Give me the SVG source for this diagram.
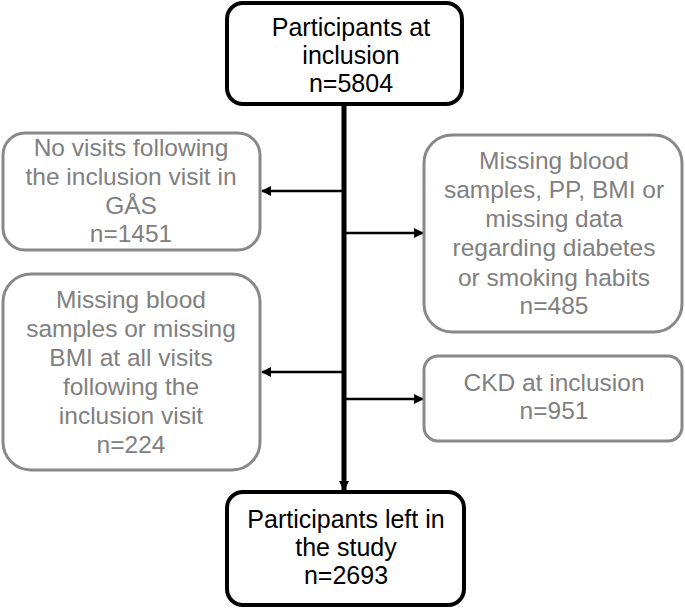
<svg xmlns="http://www.w3.org/2000/svg" width="685" height="609" viewBox="0 0 685 609">
<style>
.k{fill:#fff;stroke:#000;stroke-width:4}
.g{fill:#fff;stroke:#888;stroke-width:3}
text{font-family:"Liberation Sans",Arial,sans-serif;font-size:25px;text-anchor:middle}
.gt{fill:#808080;font-size:24.5px}
.c{stroke:#000;fill:none}
</style>
<defs><marker id="b" viewBox="0 0 10 10" refX="9" refY="5" markerWidth="10" markerHeight="10" orient="auto" markerUnits="userSpaceOnUse"><path d="M0,0L10,5L0,10z"/></marker></defs>
<g id="connectors">
<line class="c" x1="344" y1="106" x2="344" y2="490" stroke-width="5" marker-end="url(#b)"/>
<line class="c" x1="344" y1="191" x2="262" y2="191" stroke-width="2.5" marker-end="url(#b)"/>
<line class="c" x1="344" y1="233" x2="423" y2="233" stroke-width="2.5" marker-end="url(#b)"/>
<line class="c" x1="344" y1="372" x2="262" y2="372" stroke-width="2.5" marker-end="url(#b)"/>
<line class="c" x1="344" y1="399" x2="423" y2="399" stroke-width="2.5" marker-end="url(#b)"/>
</g>
<g id="top"><rect class="k" x="227" y="3" width="235" height="101" rx="16"/>
<text x="351" y="36">Participants at</text><text x="351" y="64">inclusion</text><text x="351" y="92">n=5804</text></g>
<g id="left1"><rect class="g" x="3" y="133" width="257" height="117" rx="22"/>
<text class="gt" x="131" y="156">No visits following</text><text class="gt" x="131" y="185">the inclusion visit in</text><text class="gt" x="131" y="214">GÅS</text><text class="gt" x="131" y="242">n=1451</text></g>
<g id="right1"><rect class="g" x="424" y="135" width="258" height="197" rx="28"/>
<text class="gt" x="554" y="169">Missing blood</text><text class="gt" x="554" y="198">samples, PP, BMI or</text><text class="gt" x="554" y="227">missing data</text><text class="gt" x="554" y="256">regarding diabetes</text><text class="gt" x="554" y="286">or smoking habits</text><text class="gt" x="554" y="314">n=485</text></g>
<g id="left2"><rect class="g" x="3" y="274" width="257" height="196" rx="28"/>
<text class="gt" x="131" y="308">Missing blood</text><text class="gt" x="131" y="337">samples or missing</text><text class="gt" x="131" y="366">BMI at all visits</text><text class="gt" x="131" y="395">following the</text><text class="gt" x="131" y="424">inclusion visit</text><text class="gt" x="131" y="453">n=224</text></g>
<g id="right2"><rect class="g" x="424" y="356" width="258" height="85" rx="14"/>
<text class="gt" x="554" y="391">CKD at inclusion</text><text class="gt" x="554" y="419">n=951</text></g>
<g id="bottom"><rect class="k" x="227" y="492" width="237" height="113" rx="16"/>
<text x="346" y="528">Participants left in</text><text x="346" y="556">the study</text><text x="346" y="584">n=2693</text></g>
</svg>
